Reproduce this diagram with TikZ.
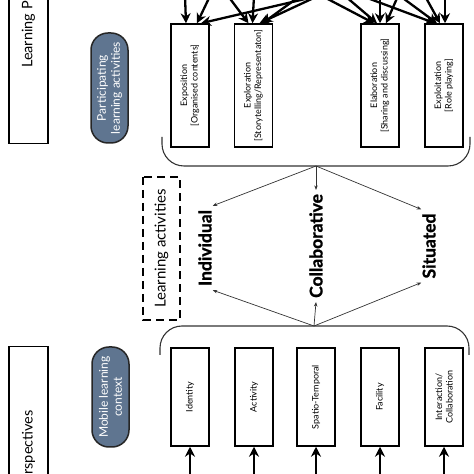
\documentclass[tikz,border=0pt]{standalone}
\usepackage{fontspec}
\setmainfont{Lato}
\newfontfamily\kindfont[BoldFeatures={FakeBold=1.2}]{Lato}
\usetikzlibrary{arrows.meta}
\definecolor{pillblue}{HTML}{5F7590}

\tikzset{
  actbox/.style={draw, line width=1.5pt, rotate=90, minimum width=123pt, minimum height=38pt,
    align=center, inner sep=1pt, font=\fontsize{9}{10.5}\selectfont},
  ctxbox/.style={actbox, minimum width=98pt},
  pill/.style={draw=black!85, line width=1.5pt, fill=pillblue, text=white, rounded corners=17pt,
    rotate=90, minimum width=110pt, minimum height=37pt, align=center, font=\fontsize{12}{14}\selectfont},
  persbox/.style={draw, line width=1.4pt, rotate=90, minimum width=220pt, minimum height=39pt},
  perstext/.style={rotate=90, font=\fontsize{14.5}{16}\selectfont, inner sep=0pt},
  kindlabel/.style={rotate=90, font=\fontsize{17.5}{20}\kindfont\bfseries, inner xsep=4pt, inner ysep=1pt},
  bigarrow/.style={line width=2.3pt, -{Stealth[length=10pt,width=10pt]}},
  thinarrow/.style={line width=0.7pt, black!80, -{Stealth[length=4.5pt,width=3.5pt]}},
  bracket/.style={line width=1.1pt, black!80, rounded corners=22pt}
}

\begin{document}
\begin{tikzpicture}[x=1pt, y=1pt]
    \useasboundingbox (0,0) rectangle (474,474);
    \clip (0,0) rectangle (474,474);

    % perspectives (cut by the frame)
    \node[persbox, anchor=west] (lpers) at (28.5,330) {};
    \node[perstext, anchor=west] (lperstext) at (28.5,406) {Learning P};
    \node[persbox, anchor=east] (mpers) at (28.5,128) {};
    \node[perstext, anchor=east] (mperstext) at (28.5,64) {rspectives};

    % side labels
    \node[pill] (partic) at (109.5,386) {Participating\\learning activities};
    \node[pill, minimum width=100pt] (mobile) at (110.5,77) {Mobile learning\\context};
    \node[rotate=90, draw, line width=1.8pt, dash pattern=on 8pt off 5pt, minimum width=143pt,
        minimum height=37pt, font=\fontsize{15}{17}\selectfont] (lact) at (161.5,225.5) {Learning activities};

    % participating learning activities
    \node[actbox] (expo) at (190,388.5) {Exposition\\{}[Organised contents]};
    \node[actbox] (explo) at (253.5,388.5) {Exploration\\{}[Storytelling/Representaton]};
    \node[actbox] (elab) at (380,388.5) {Elaboration\\{}[Sharing and discussing]};
    \node[actbox] (exploit) at (444,388.5) {Exploitation\\{}[Role playing]};

    % mobile learning context
    \node[ctxbox] (iden) at (190,77) {Identity};
    \node[ctxbox] (acti) at (254,77) {Activity};
    \node[ctxbox] (spat) at (316,77) {Spatio-Temporal};
    \node[ctxbox] (faci) at (380,77) {Facility};
    \node[ctxbox] (inter) at (444,77) {Interaction/\\Collaboration};

    % kinds of learning activities
    \node[kindlabel] (indiv) at (205,226) {Individual};
    \node[kindlabel] (collab) at (316,228) {Collaborative};
    \node[kindlabel] (situ) at (429,228) {Situated};

    % brackets
    \coordinate (topMid) at (316,308);
    \coordinate (botMid) at (314,148);
    \draw[bracket] (162,337) |- (topMid) -| (470,337);
    \draw[bracket] (160,119) |- (botMid) -| (469,119);

    \draw[thinarrow] (topMid) -- (indiv.south east);
    \draw[thinarrow] (topMid) -- (collab.east);
    \draw[thinarrow] (topMid) -- (situ.north east);
    \draw[thinarrow] (botMid) -- (indiv.south west);
    \draw[thinarrow] (botMid) -- (collab.west);
    \draw[thinarrow] (botMid) -- (situ.north west);

    % arrows coming in from the perspectives
    \foreach \sx/\b/\dx in {185/expo/-4, 210/expo/7, 318/expo/11,
                            228/explo/-5, 254/explo/-1, 300/explo/9, 318/explo/6,
                            322/elab/-6, 345/elab/-3, 380/elab/0, 398/elab/6,
                            362/exploit/-9, 400/exploit/-7, 425/exploit/-4, 445/exploit/1} {
        \coordinate (src) at (\sx,478);
        \draw[bigarrow] (src) -- ([xshift=\dx pt]\b.east);
    }

    \coordinate (lowedge) at (0,-3);
    \foreach \b in {iden,acti,spat,faci,inter}
        \draw[bigarrow, line width=2.8pt] (\b.west |- lowedge) -- (\b.west);
\end{tikzpicture}
\end{document}
